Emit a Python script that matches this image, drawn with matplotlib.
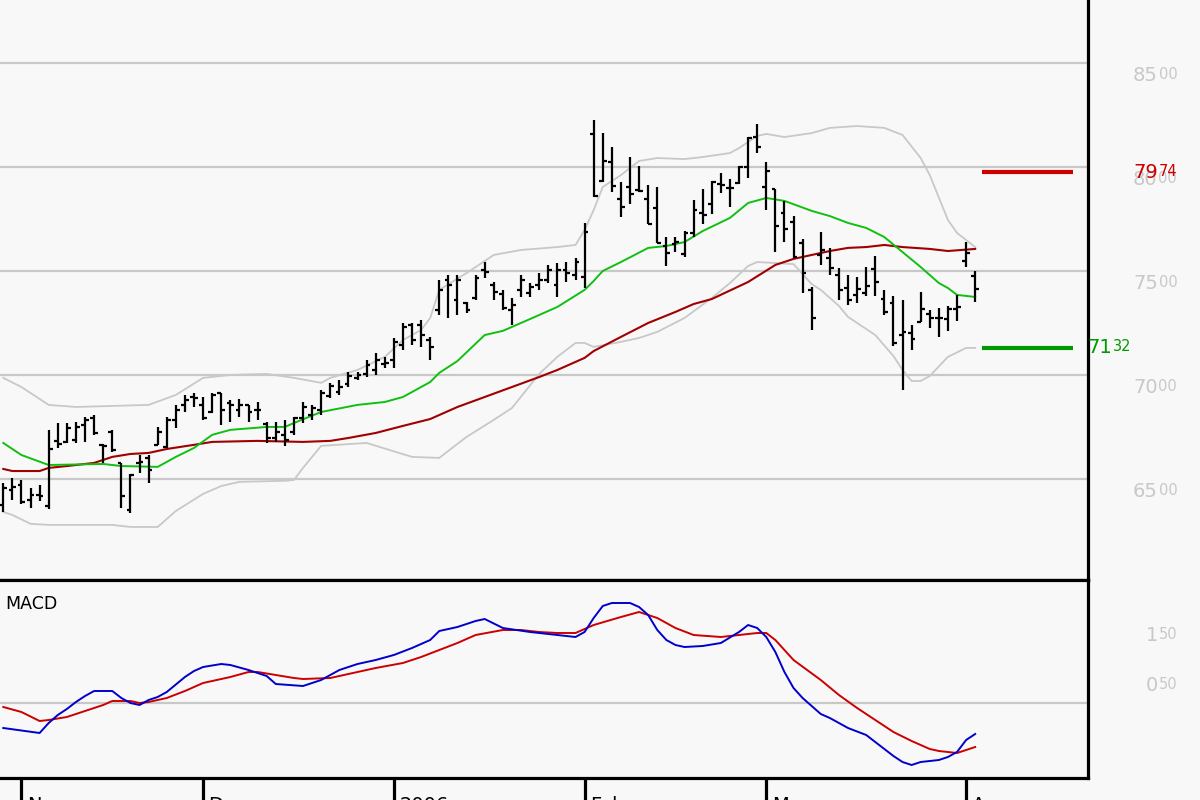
import matplotlib.pyplot as plt
from matplotlib.transforms import blended_transform_factory, offset_copy

# cours journaliers (EUR) : plus haut, plus bas, ouverture, cloture
high = [64.81, 65.05, 64.95, 64.57, 64.71, 67.36, 67.69, 67.69, 67.74, 67.98,
        68.08, 66.68, 67.36, 65.77, 65.24, 66.15, 66.15, 67.50, 67.98, 68.56,
        69.04, 69.13, 68.94, 69.13, 69.13, 68.80, 68.85, 68.56, 68.70, 67.74,
        67.74, 67.84, 67.98, 68.70, 68.56, 69.28, 69.62, 69.76, 70.14, 70.14,
        70.72, 71.06, 70.87, 71.78, 72.50, 72.50, 72.64, 71.83, 74.57, 74.81,
        74.81, 73.51, 74.81, 75.43, 74.47, 74.09, 73.70, 74.81, 74.42, 74.90,
        75.29, 75.38, 75.43, 75.62, 77.31, 82.26, 81.63, 80.96, 79.28, 80.48,
        80.05, 79.13, 79.04, 76.63, 76.63, 76.92, 78.41, 78.94, 79.33, 79.71,
        79.42, 80.05, 81.44, 82.07, 80.24, 78.94, 78.37, 77.64, 76.54, 74.23,
        76.88, 76.11, 75.14, 74.81, 74.71, 75.19, 75.72, 74.09, 73.80, 73.61,
        72.40, 73.99, 73.12, 73.22, 73.32, 73.85, 76.39, 75.00]
low = [63.41, 63.99, 63.80, 63.61, 63.94, 63.56, 66.49, 66.73, 66.73, 66.78,
       67.12, 65.77, 66.30, 63.61, 63.37, 65.29, 64.81, 66.63, 66.49, 67.45,
       68.22, 68.46, 67.84, 68.17, 67.60, 67.74, 67.98, 67.74, 67.84, 66.73,
       66.78, 66.59, 67.12, 67.69, 67.84, 68.08, 68.90, 69.04, 69.42, 69.76,
       69.90, 70.00, 70.34, 70.34, 71.20, 71.44, 71.35, 70.72, 72.88, 72.74,
       72.88, 72.98, 73.61, 74.66, 73.61, 73.12, 72.40, 73.75, 73.75, 74.09,
       74.42, 73.75, 74.47, 74.57, 74.18, 78.56, 79.28, 78.80, 77.60, 78.22,
       78.80, 77.26, 76.35, 75.24, 75.91, 75.67, 76.63, 77.26, 77.74, 78.75,
       78.08, 79.18, 79.47, 80.67, 77.93, 75.91, 76.39, 75.63, 73.94, 72.16,
       75.29, 74.81, 73.61, 73.37, 73.46, 73.80, 73.80, 72.88, 71.39, 69.28,
       71.20, 72.55, 72.26, 71.83, 72.11, 72.60, 75.19, 73.51]
opn = [63.75, 64.47, 64.71, 63.99, 64.23, 63.70, 66.83, 66.78, 66.88, 67.60,
       67.93, 66.63, 67.26, 65.77, 63.51, 65.77, 66.01, 66.63, 66.54, 67.84,
       68.56, 68.94, 68.56, 68.22, 69.13, 68.65, 68.32, 68.56, 68.32, 67.64,
       66.97, 67.12, 67.26, 67.93, 68.08, 68.32, 68.99, 69.18, 69.57, 69.86,
       70.05, 70.24, 70.53, 70.72, 71.44, 72.40, 72.40, 71.68, 73.12, 74.57,
       73.61, 73.46, 73.70, 75.05, 74.33, 73.89, 73.12, 74.09, 73.94, 74.33,
       74.57, 74.33, 75.05, 74.81, 74.71, 81.59, 79.33, 80.24, 78.46, 79.04,
       78.89, 78.46, 78.03, 76.20, 76.30, 75.82, 76.83, 77.79, 78.22, 79.18,
       78.99, 79.23, 80.00, 81.44, 79.04, 78.94, 77.79, 77.36, 76.35, 74.09,
       75.77, 75.63, 74.81, 74.18, 73.85, 73.94, 75.10, 73.65, 73.46, 71.92,
       72.02, 72.55, 72.93, 72.74, 72.69, 73.17, 75.48, 74.76]
close = [64.57, 64.62, 63.89, 64.23, 64.18, 66.44, 66.68, 67.45, 67.50, 67.84,
         67.21, 66.59, 66.39, 64.18, 65.19, 65.82, 65.43, 67.26, 67.84, 68.32,
         68.80, 68.89, 67.93, 69.04, 68.32, 68.56, 68.56, 68.22, 68.32, 66.97,
         67.26, 66.88, 67.93, 68.46, 68.42, 69.13, 69.47, 69.42, 69.95, 70.00,
         70.48, 70.72, 70.58, 71.59, 72.31, 71.68, 71.92, 71.35, 74.09, 74.33,
         74.57, 73.12, 74.66, 74.95, 73.99, 73.22, 73.36, 74.57, 74.23, 74.57,
         75.05, 75.05, 74.90, 75.43, 76.88, 78.61, 80.29, 79.09, 78.08, 78.70,
         78.85, 77.26, 76.35, 75.87, 76.39, 76.83, 77.93, 77.69, 79.28, 79.13,
         78.99, 80.00, 81.39, 80.96, 79.81, 77.16, 77.02, 75.67, 74.90, 72.74,
         76.01, 75.14, 74.09, 73.61, 74.13, 74.28, 74.47, 73.03, 71.54, 72.07,
         71.73, 73.17, 72.74, 72.74, 73.17, 73.27, 75.87, 74.13]

# moyenne mobile courte (verte)
mm_court_x = [0, 2, 5, 11, 13, 17, 19, 21, 23, 25, 29, 31, 32, 35, 39, 42, 44, 47,
              48, 50, 53, 55, 58, 61, 64, 65, 66, 68, 71, 73, 75, 77, 80, 82, 84,
              86, 89, 91, 93, 95, 97, 99, 101, 103, 104, 105, 107]
mm_court = [66.73, 66.15, 65.67, 65.72, 65.62, 65.58, 66.06, 66.49, 67.12, 67.36,
            67.50, 67.50, 67.69, 68.22, 68.56, 68.70, 68.94, 69.66, 70.10, 70.67,
            71.92, 72.12, 72.69, 73.27, 74.09, 74.52, 75.00, 75.43, 76.11, 76.20,
            76.39, 76.92, 77.55, 78.27, 78.51, 78.37, 77.89, 77.64, 77.31, 77.07,
            76.63, 75.91, 75.19, 74.42, 74.18, 73.85, 73.75]

# moyenne mobile longue (bordeaux)
mm_long_x = [0, 1, 4, 5, 7, 10, 12, 14, 16, 18, 21, 23, 28, 33, 36, 38, 41, 44, 47,
             50, 53, 56, 59, 61, 64, 65, 68, 71, 74, 76, 78, 82, 85, 87, 89, 91, 93,
             95, 97, 99, 102, 104, 107]
mm_long = [65.48, 65.38, 65.38, 65.53, 65.62, 65.77, 66.06, 66.20, 66.25, 66.44,
           66.64, 66.78, 66.83, 66.78, 66.83, 66.97, 67.21, 67.55, 67.88, 68.46,
           68.94, 69.42, 69.90, 70.24, 70.82, 71.15, 71.83, 72.50, 73.03, 73.41,
           73.65, 74.47, 75.29, 75.58, 75.77, 75.96, 76.11, 76.15, 76.25, 76.15,
           76.06, 75.96, 76.06]

# bandes de Bollinger
bb_haut_x = [0, 2, 5, 8, 16, 19, 22, 25, 29, 32, 35, 36, 39, 42, 44, 46, 47, 48, 51,
             54, 57, 61, 63, 64, 65, 66, 68, 70, 72, 75, 77, 80, 81, 83, 84, 86, 89,
             91, 94, 97, 99, 101, 102, 104, 105, 107]
bb_haut = [69.86, 69.42, 68.56, 68.46, 68.56, 69.04, 69.86, 70.00, 70.05, 69.86,
           69.62, 69.86, 70.24, 70.87, 71.68, 72.16, 72.74, 74.09, 74.90, 75.77,
           76.01, 76.15, 76.25, 76.97, 77.93, 79.04, 79.61, 80.29, 80.43, 80.38,
           80.48, 80.67, 80.91, 81.49, 81.59, 81.44, 81.63, 81.88, 81.97, 81.88,
           81.54, 80.43, 79.61, 77.45, 76.83, 76.15]
bb_bas_x = [0, 1, 3, 5, 12, 14, 17, 19, 22, 24, 26, 31, 32, 33, 35, 40, 45, 48, 51,
            54, 56, 59, 61, 63, 64, 65, 68, 70, 72, 75, 78, 80, 82, 83, 87, 89, 90,
            92, 93, 96, 98, 99, 100, 101, 102, 104, 106, 107]
bb_bas = [63.41, 63.27, 62.84, 62.79, 62.79, 62.69, 62.69, 63.46, 64.28, 64.66,
          64.86, 64.91, 64.95, 65.53, 66.59, 66.73, 66.06, 66.01, 67.02, 67.84,
          68.41, 70.05, 70.87, 71.54, 71.54, 71.35, 71.59, 71.78, 72.07, 72.74,
          73.70, 74.42, 75.24, 75.43, 75.33, 74.37, 74.09, 73.32, 72.79, 71.92,
          70.91, 70.24, 69.71, 69.71, 69.95, 70.87, 71.30, 71.30]

# MACD et signal
macd_x = [0, 2, 4, 5, 6, 7, 8, 9, 10, 12, 13, 14, 15, 16, 17, 18, 20, 21, 22, 24,
          25, 27, 29, 30, 33, 35, 37, 39, 41, 43, 45, 47, 48, 50, 52, 53, 55, 58,
          61, 63, 64, 65, 66, 67, 69, 70, 71, 72, 73, 74, 75, 77, 79, 81, 82, 83,
          84, 85, 86, 87, 88, 89, 90, 91, 93, 95, 96, 97, 98, 99, 100, 101, 103,
          104, 105, 106, 107]
macd = [-0.50, -0.55, -0.60, -0.40, -0.24, -0.12, 0.02, 0.14, 0.24, 0.24, 0.10,
        0.00, -0.04, 0.06, 0.12, 0.22, 0.52, 0.64, 0.72, 0.78, 0.76, 0.66, 0.54,
        0.38, 0.34, 0.46, 0.66, 0.78, 0.86, 0.96, 1.10, 1.26, 1.44, 1.52, 1.64,
        1.68, 1.50, 1.42, 1.36, 1.32, 1.42, 1.70, 1.94, 2.00, 2.00, 1.92, 1.76,
        1.46, 1.26, 1.16, 1.12, 1.14, 1.20, 1.42, 1.56, 1.50, 1.32, 1.02, 0.62,
        0.30, 0.10, -0.06, -0.22, -0.30, -0.50, -0.64, -0.78, -0.92, -1.06,
        -1.18, -1.24, -1.18, -1.14, -1.08, -0.98, -0.74, -0.62]
signal_x = [0, 2, 4, 5, 7, 9, 11, 12, 14, 15, 16, 18, 20, 22, 25, 27, 28, 30, 32,
            33, 36, 39, 41, 44, 46, 48, 50, 52, 55, 57, 59, 61, 63, 65, 68, 70, 72,
            74, 76, 79, 81, 83, 84, 85, 87, 90, 92, 94, 96, 98, 100, 102, 103, 105,
            106, 107]
signal = [-0.08, -0.18, -0.36, -0.34, -0.28, -0.16, -0.04, 0.04, 0.04, 0.00, 0.02,
          0.10, 0.24, 0.40, 0.52, 0.62, 0.62, 0.56, 0.50, 0.48, 0.50, 0.62, 0.70,
          0.80, 0.92, 1.06, 1.20, 1.36, 1.46, 1.46, 1.42, 1.40, 1.40, 1.56, 1.72,
          1.82, 1.70, 1.50, 1.36, 1.32, 1.36, 1.40, 1.40, 1.26, 0.86, 0.46, 0.16,
          -0.10, -0.34, -0.58, -0.76, -0.92, -0.96, -1.00, -0.94, -0.88]

# niveaux (resistance / support)
resistance = 79.74
support = 71.32

grille = [65, 70, 75, 80, 85]
macd_graduations = [1.50, 0.50]
mois_x = [2, 22, 43, 64, 84, 106]
mois = ['Nov', 'Dec', '2006', 'Feb', 'Mar', 'Apr']

fond = '#f8f8f8'
gris = '#c8c8c8'

fig = plt.figure(figsize=(12, 8), dpi=100)
fig.patch.set_facecolor(fond)
ax = fig.add_axes([0, 0.275, 1088 / 1200, 0.725])
ax2 = fig.add_axes([0, 22 / 800, 1088 / 1200, 198 / 800])

for a in (ax, ax2):
    a.set_facecolor(fond)
    a.set_xlim(-0.36, 119.42)
    a.set_yticks([])
    a.spines['left'].set_visible(False)
    for s in ('right', 'bottom', 'top'):
        a.spines[s].set_linewidth(2.3)
ax.spines['top'].set_visible(False)
ax.set_xticks([])
ax.set_ylim(60.14, 88.03)
ax2.set_ylim(-1.5, 2.46)

# grille
for g in grille:
    ax.axhline(g, color=gris, lw=1.6, zorder=1)
ax2.axhline(0, color=gris, lw=1.6, zorder=1)

# indicateurs
ax.plot(bb_haut_x, bb_haut, color=gris, lw=1.3, zorder=2)
ax.plot(bb_bas_x, bb_bas, color=gris, lw=1.3, zorder=2)
ax.plot(mm_long_x, mm_long, color='#a00000', lw=1.5, zorder=3)
ax.plot(mm_court_x, mm_court, color='#10c010', lw=1.4, zorder=3)

# barres OHLC
x = list(range(len(close)))
ax.vlines(x, low, high, color='black', lw=1.6, zorder=4)
ax.hlines(opn, [i - 0.42 for i in x], x, color='black', lw=1.6, zorder=4)
ax.hlines(close, x, [i + 0.42 for i in x], color='black', lw=1.6, zorder=4)

# niveaux
ax.hlines(resistance, 107.7, 117.8, color='#cc0000', lw=3, zorder=4)
ax.hlines(support, 107.7, 117.8, color='#009900', lw=3, zorder=4)


def cote(axe, val, col, xpix, va='top', dy=-3):
    ent, dec = f'{val:.2f}'.split('.')
    t_tr = offset_copy(blended_transform_factory(fig.transFigure, axe.transData),
                       fig=fig, y=dy, units='dots')
    t = axe.text(xpix / 1200, val, ent, transform=t_tr, color=col, fontsize=14,
                 va=va, ha='left', clip_on=False)
    axe.annotate(dec, xy=(1, 1), xycoords=t, xytext=(0.5, -1),
                 textcoords='offset points', color=col, fontsize=10.5,
                 va='top', ha='left', annotation_clip=False)


for g in grille:
    cote(ax, g, gris, 1133)
cote(ax, resistance, '#cc0000', 1133, va='center', dy=0)
cote(ax, support, '#009900', 1087, va='center', dy=0)

# MACD
ax2.plot(signal_x, signal, color='#cc0000', lw=1.4, zorder=3)
ax2.plot(macd_x, macd, color='#0000cc', lw=1.4, zorder=3)
ax2.text(5 / 1088, 0.925, 'MACD', transform=ax2.transAxes, fontsize=12.5,
         va='top', ha='left', color='black')
for v in macd_graduations:
    cote(ax2, v, gris, 1146, dy=2)

ax2.set_xticks(mois_x)
ax2.tick_params(axis='x', direction='out', length=20, width=2.3,
                labelbottom=False)
trx = blended_transform_factory(ax2.transData, ax2.transAxes)
for m, lab in zip(mois_x, mois):
    ax2.text(m + 0.6, -0.092, lab, transform=trx, fontsize=14, va='top',
             ha='left', clip_on=False)

fig.savefig('out.png', dpi=100, facecolor=fig.get_facecolor())
